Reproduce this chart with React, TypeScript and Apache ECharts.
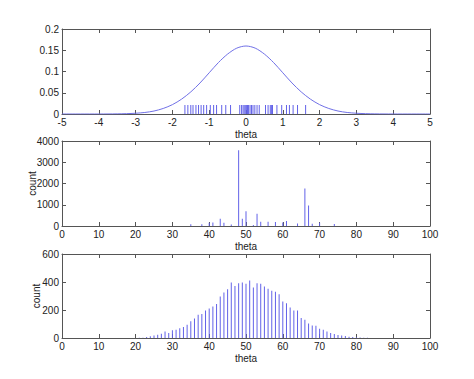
import React, { useEffect, useRef } from "react";
import * as echarts from "echarts";

// Top panel: density curve and rug of samples
const curveTheta = [-5, -4.5, -4, -3.75, -3.5, -3.25, -3, -2.75, -2.5, -2.25, -2, -1.75, -1.5, -1.25, -1, -0.75, -0.5, -0.25, 0, 0.25, 0.5, 0.75, 1, 1.25, 1.5, 1.75, 2, 2.25, 2.5, 2.75, 3, 3.25, 3.5, 3.75, 4, 4.5, 5];
const curveDensity = [0, 0, 0, 0.0001, 0.0003, 0.0008, 0.0018, 0.0036, 0.007, 0.013, 0.022, 0.035, 0.052, 0.073, 0.097, 0.121, 0.141, 0.155, 0.16, 0.155, 0.141, 0.121, 0.097, 0.073, 0.052, 0.035, 0.022, 0.013, 0.007, 0.0036, 0.0018, 0.0008, 0.0003, 0.0001, 0, 0, 0];
const rugTheta = [-1.66, -1.58, -1.5, -1.44, -1.36, -1.29, -1.22, -1.15, -1.07, -0.97, -0.88, -0.8, -0.66, -0.55, -0.42, -0.17, -0.12, -0.08, -0.05, -0.02, 0.01, 0.04, 0.07, 0.11, 0.15, 0.19, 0.24, 0.3, 0.36, 0.53, 0.6, 0.66, 0.69, 0.72, 0.84, 0.97, 1.1, 1.18, 1.28, 1.4, 1.62];
const rugHeight = [0.021];

// Middle panel: spiky counts
const stemTheta = [35, 38, 40, 41, 43, 44, 46, 48, 49, 50, 52, 53, 54, 56, 58, 60, 61, 64, 66, 67, 68, 70, 74];
const stemCount = [80, 80, 150, 170, 340, 150, 70, 3560, 340, 690, 50, 580, 200, 200, 190, 170, 230, 120, 1770, 970, 110, 150, 90];

// Bottom panel: bell-shaped counts
const histTheta = [21, 22, 23, 24, 25, 26, 27, 28, 29, 30, 31, 32, 33, 34, 35, 36, 37, 38, 39, 40, 41, 42, 43, 44, 45, 46, 47, 48, 49, 50, 51, 52, 53, 54, 55, 56, 57, 58, 59, 60, 61, 62, 63, 64, 65, 66, 67, 68, 69, 70, 71, 72, 73, 74, 75, 76, 77, 78, 79, 80, 81, 82, 83];
const histCount = [1, 2, 7, 12, 17, 24, 31, 47, 36, 55, 59, 69, 78, 95, 119, 140, 166, 171, 197, 211, 225, 242, 296, 325, 349, 396, 372, 391, 396, 387, 410, 360, 391, 387, 368, 351, 337, 330, 313, 261, 249, 218, 197, 197, 142, 130, 104, 90, 88, 66, 59, 47, 36, 28, 21, 17, 14, 9, 7, 5, 3, 2, 1];

const xTop = { min: -5, max: 5, interval: 1 };
const xBottom = { min: 0, max: 100, interval: 10 };
const yTicks = [
  { min: 0, max: 0.2, interval: 0.05 },
  { min: 0, max: 4000, interval: 1000 },
  { min: 0, max: 600, interval: 200 },
];

const FONT = "'Liberation Sans', Arial, sans-serif";
const AX = "#555";
const LBL = "#222";
const BLUE = "#6262e8";

const fmt = (v: number) => String(v);

function xAxisPair(gridIndex: number, r: any, name: string) {
  const common = {
    type: "value",
    gridIndex,
    min: r.min,
    max: r.max,
    interval: r.interval,
    splitLine: { show: false },
    axisLine: { show: true, onZero: false, lineStyle: { color: AX, width: 1 } },
    axisTick: { show: true, inside: true, length: 4, lineStyle: { color: AX } },
  };
  return [
    {
      ...common,
      position: "bottom",
      axisLabel: { fontSize: 10, color: LBL, margin: 3, fontFamily: FONT, formatter: fmt, showMinLabel: true, showMaxLabel: true },
      name,
      nameLocation: "middle",
      nameGap: 15,
      nameMoveOverlap: false,
      nameTextStyle: { fontSize: 10, color: LBL, fontFamily: FONT },
    },
    { ...common, position: "top", axisLabel: { show: false } },
  ];
}

function yAxisPair(gridIndex: number, r: any, name: string, gap: number) {
  const common = {
    type: "value",
    gridIndex,
    min: r.min,
    max: r.max,
    interval: r.interval,
    splitLine: { show: false },
    axisLine: { show: true, onZero: false, lineStyle: { color: AX, width: 1 } },
    axisTick: { show: true, inside: true, length: 4, lineStyle: { color: AX } },
  };
  return [
    {
      ...common,
      position: "left",
      axisLabel: { fontSize: 10, color: LBL, margin: 3, fontFamily: FONT, formatter: fmt, showMinLabel: true, showMaxLabel: true },
      name,
      nameLocation: "middle",
      nameGap: gap,
      nameMoveOverlap: false,
      nameTextStyle: { fontSize: 10, color: LBL, fontFamily: FONT },
    },
    { ...common, position: "right", axisLabel: { show: false } },
  ];
}

export default function App() {
  const ref = useRef<HTMLDivElement>(null);
  useEffect(() => {
    if (!ref.current) return;
    const chart = echarts.init(ref.current, undefined, { renderer: "svg" });
    const option: any = {
      animation: false,
      backgroundColor: "#ffffff",
      grid: [
        { left: 62, right: 44, top: 29, height: 85 },
        { left: 62, right: 44, top: 141, height: 85 },
        { left: 62, right: 44, top: 254, height: 84 },
      ],
      xAxis: [
        ...xAxisPair(0, xTop, "theta"),
        ...xAxisPair(1, xBottom, "theta"),
        ...xAxisPair(2, xBottom, "theta"),
      ],
      yAxis: [
        ...yAxisPair(0, yTicks[0], "", 20),
        ...yAxisPair(1, yTicks[1], "count", 25),
        ...yAxisPair(2, yTicks[2], "count", 21),
      ],
      series: [
        {
          type: "line",
          xAxisIndex: 0,
          yAxisIndex: 0,
          data: curveTheta.map((t, i) => [t, curveDensity[i]]),
          smooth: 0.3,
          showSymbol: false,
          symbol: "none",
          lineStyle: { color: "#7070e6", width: 1 },
        },
        {
          type: "bar",
          xAxisIndex: 0,
          yAxisIndex: 0,
          data: rugTheta.map((t) => [t, rugHeight[0]]),
          barWidth: 1,
          itemStyle: { color: BLUE },
        },
        {
          type: "bar",
          xAxisIndex: 2,
          yAxisIndex: 2,
          data: stemTheta.map((t, i) => [t, stemCount[i]]),
          barWidth: 1,
          itemStyle: { color: BLUE },
        },
        {
          type: "bar",
          xAxisIndex: 4,
          yAxisIndex: 4,
          data: histTheta.map((t, i) => [t, histCount[i]]),
          barWidth: 1,
          itemStyle: { color: BLUE },
        },
      ],
    };
    chart.setOption(option);
    return () => chart.dispose();
  }, []);
  return (
    <div
      ref={ref}
      style={{ position: "fixed", left: 0, top: 0, width: 474, height: 379, background: "#fff" }}
    />
  );
}
